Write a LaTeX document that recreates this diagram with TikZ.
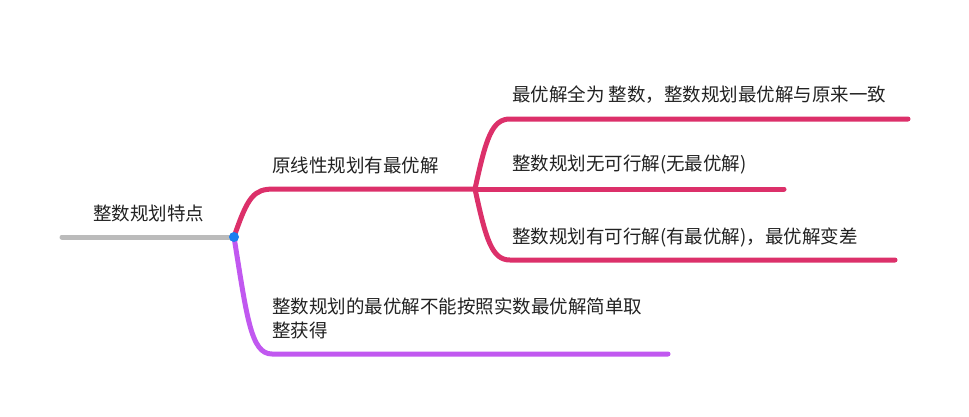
\documentclass[tikz,border=0pt]{standalone}
\usepackage{fontspec}
\setmainfont{Noto Sans CJK SC}
\definecolor{rootgray}{HTML}{BBBBBB}
\definecolor{pinkbr}{HTML}{DC306A}
\definecolor{purplebr}{HTML}{C158F0}
\definecolor{dotblue}{HTML}{1A7FF0}
\definecolor{txt}{HTML}{222222}
\begin{document}
\begin{tikzpicture}[x=1pt,y=-1pt,
  br/.style={line width=5pt, line cap=round},
  lbl/.style={anchor=west, inner sep=0pt, align=left, font=\fontsize{18.5}{24}\selectfont, text=txt}]
\useasboundingbox (0,0) rectangle (969,416);
% anchor coordinates
\coordinate (rootstart) at (62,237);
\coordinate (hub) at (234,237);
\coordinate (p1) at (475,189);
\coordinate (p1a) at (510,119);
\coordinate (e1a) at (908,119);
\coordinate (e1b) at (784,189);
\coordinate (p1c) at (510,260);
\coordinate (e1c) at (895,260);
\coordinate (p2) at (272,354);
\coordinate (e2) at (668,354);
% connectors
\draw[br, rootgray] (rootstart) -- (hub);
\draw[br, pinkbr] (hub) .. controls (248,196) and (254,189) .. (274,189) -- (p1);
\draw[br, pinkbr] (p1) .. controls (486,138) and (492,119) .. (p1a) -- (e1a);
\draw[br, pinkbr] (p1) -- (e1b);
\draw[br, pinkbr] (p1) .. controls (486,240) and (492,260) .. (p1c) -- (e1c);
\draw[br, purplebr] (hub) .. controls (247,318) and (251,354) .. (p2) -- (e2);
\fill[dotblue] (hub) circle (5);
% labels
\node[lbl] (root) at (93,213) {整数规划特点};
\node[lbl] (n1) at (272,165) {原线性规划有最优解};
\node[lbl] (n1a) at (512,95) {最优解全为 整数，整数规划最优解与原来一致};
\node[lbl] (n1b) at (512,165) {整数规划无可行解(无最优解)};
\node[lbl] (n1c) at (512,237) {整数规划有可行解(有最优解)，最优解变差};
\node[lbl] (n2) at (272,318) {整数规划的最优解不能按照实数最优解简单取\\整获得};
\end{tikzpicture}
\end{document}
